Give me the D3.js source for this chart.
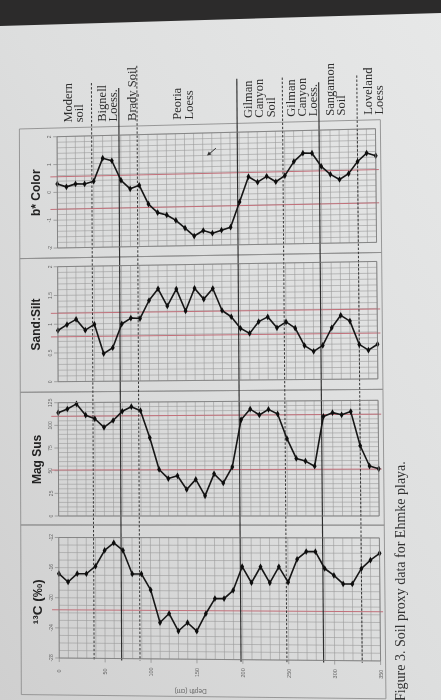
<!DOCTYPE html>
<html><head><meta charset="utf-8">
<script src="https://cdn.jsdelivr.net/npm/d3@7/dist/d3.min.js"></script>
<style>
html,body{margin:0;padding:0;overflow:hidden;background:#dadada;}
svg{display:block}
</style></head>
<body>
<svg id="chart" width="441" height="700"></svg>
<script>
// ---------------- data ----------------
const depths = [0,10,20,30,40,50,60,70,80,90,100,110,120,130,140,150,160,170,180,190,200,210,220,230,240,250,260,270,280,290,300,310,320,330,340,350];
const d13C = [-16.8,-17.9,-16.8,-16.8,-15.8,-13.7,-12.7,-13.7,-16.8,-16.8,-18.9,-23.2,-22.0,-24.3,-23.2,-24.3,-22.0,-20.0,-20.0,-18.9,-15.8,-17.9,-15.8,-17.9,-15.8,-17.8,-14.8,-13.8,-13.8,-16.0,-16.9,-18.0,-18.0,-16.0,-14.9,-14.0];
const magSus = [114,118,123.5,111,107,97.5,105,115,120,115.6,85.8,51,41,44,29,40,22,46,36,53.5,105,116.5,110,116,111,84,62.5,59.6,54,108,112,109.6,113,76,54,51];
const sandSilt = [0.89,0.99,1.08,0.89,0.99,0.48,0.58,0.99,1.09,1.08,1.39,1.59,1.29,1.58,1.20,1.59,1.40,1.58,1.20,1.09,0.89,0.80,1.00,1.08,0.89,0.99,0.88,0.58,0.48,0.58,0.88,1.09,0.99,0.59,0.49,0.59];
const bColor = [0.30,0.19,0.29,0.28,0.37,1.19,1.09,0.38,0.07,0.19,-0.49,-0.80,-0.89,-1.09,-1.37,-1.66,-1.47,-1.57,-1.47,-1.37,-0.48,0.41,0.21,0.41,0.21,0.42,0.91,1.20,1.19,0.72,0.43,0.24,0.44,0.86,1.15,1.05];
const depthTicks = [0,50,100,150,200,250,300,350];
const d13CTicks = [-12,-16,-20,-24,-28];
const magSusTicks = [0,25,50,75,100,125];
const sandSiltTicks = [0,0.5,1,1.5,2];
const bColorTicks = [-2,-1,0,1,2];
const d13CRef = [-21.6];
const magSusRef = [110,50.7];
const sandSiltRef = [1.19,0.78];
const bColorRef = [0.56,-0.61];
const boundaryDepths = [38,68,88,198,248,288,330];
const boundaryTypes = ["gradual","sharp","gradual","sharp","gradual","sharp","gradual"];
const unitNames = [["Modern","soil"],["Bignell","Loess."],["Brady Soil"],["Peoria","Loess"],["Gilman","Canyon","Soil"],["Gilman","Canyon","Loess."],["Sangamon","Soil"],["Loveland","Loess"]];
const panelTitles = ["b* Color","Sand:Silt","Mag Sus","\u00B9\u00B3C (\u2030)"];
const captionText = "Figure 3. Soil proxy data for Ehmke playa.";
const depthTitle = "Depth (cm)";

// ---------------- layout ----------------
const labelLayout = ["after","under","under","center","after","under","after","after"];
// photo perspective warp (flat -> picture)
function W(x,y){ const t=(x-59)/321; return [x+(y-600)*(0.0041+0.0057*t), y+0.021*t*(y-517)]; }

const svg = d3.select("#chart");
const defs = svg.append("defs");
const lg = defs.append("linearGradient").attr("id","pg").attr("x1",1).attr("y1",0).attr("x2",0).attr("y2",1);
lg.append("stop").attr("offset",0).attr("stop-color","#e7e8e8");
lg.append("stop").attr("offset",0.5).attr("stop-color","#dddede");
lg.append("stop").attr("offset",1).attr("stop-color","#cfcfcf");
defs.append("filter").attr("id","soft").append("feGaussianBlur").attr("stdDeviation",0.35);

svg.append("rect").attr("width",441).attr("height",700).attr("fill","url(#pg)");
svg.append("path").attr("d","M0,0H441V13L0,26Z").attr("fill","#2c2b2b");

const g = svg.append("g").attr("filter","url(#soft)");
const gFrame = g.append("g").attr("fill","none").attr("stroke","#8e8e8e").attr("stroke-width",0.9);
const gGrid = g.append("g").attr("stroke","#9a9a9a").attr("stroke-width",0.6);
const gRef = g.append("g").attr("stroke","#c2707a").attr("stroke-width",1);
const gBound = g.append("g").attr("stroke","#2e2e2e");
const gData = g.append("g");
const gText = g.append("g");

function seg(sel,x1,y1,x2,y2){ const a=W(x1,y1), b=W(x2,y2);
  return sel.append("line").attr("x1",a[0].toFixed(2)).attr("y1",a[1].toFixed(2)).attr("x2",b[0].toFixed(2)).attr("y2",b[1].toFixed(2)); }
function vtext(sel,x,y,s,rot){ const p=W(x,y);
  return sel.append("text").attr("transform",`translate(${p[0].toFixed(2)},${p[1].toFixed(2)}) rotate(${rot===undefined?-90:rot})`).text(s); }
function poly(sel,pts){ return sel.append("path").attr("d","M"+pts.map(p=>W(p[0],p[1]).map(v=>v.toFixed(2)).join(",")).join("L")+"Z"); }

const X = d3.scaleLinear().domain([0,350]).range([59,380]);

const panels = [
  {title:panelTitles[0], values:bColor,   ticks:bColorTicks,   ref:bColorRef,   domain:[-2,2],   px:[248,136.7], minor:0.2, frame:[128,258]},
  {title:panelTitles[1], values:sandSilt, ticks:sandSiltTicks, ref:sandSiltRef, domain:[0,2],    px:[381.7,266.7], minor:0.1, frame:[258,392]},
  {title:panelTitles[2], values:magSus,   ticks:magSusTicks,   ref:magSusRef,   domain:[0,125],  px:[516,402.7], minor:5, frame:[392,525]},
  {title:panelTitles[3], values:d13C,     ticks:d13CTicks,     ref:d13CRef,     domain:[-28,-12],px:[658,537.5], minor:1, frame:[525,695]}
];

panels.forEach((p,pi)=>{
  const y = d3.scaleLinear().domain(p.domain).range(p.px);
  poly(gFrame,[[21,p.frame[0]],[385,p.frame[0]],[385,p.frame[1]],[21,p.frame[1]]]);
  const n = Math.round((p.domain[1]-p.domain[0])/p.minor);
  for(let i=0;i<=n;i++){ const v=p.domain[0]+i*p.minor; seg(gGrid,59,y(v),380,y(v)); }
  depths.forEach(d=>seg(gGrid,X(d),p.px[1],X(d),p.px[0]));
  poly(g.append("g").attr("fill","none").attr("stroke","#7a7a7a").attr("stroke-width",0.8),[[59,p.px[1]],[380,p.px[1]],[380,p.px[0]],[59,p.px[0]]]);
  p.ticks.forEach(t=>{ seg(gGrid,55,y(t),59,y(t)).attr("stroke","#7a7a7a");
    vtext(gText,53,y(t),String(t)).attr("text-anchor","middle").attr("font-family","Liberation Sans, Arial, sans-serif").attr("font-size",5).attr("fill","#666"); });
  p.ref.forEach(r=>seg(gRef,52,y(r),383,y(r)));
  const pts = depths.map((d,i)=>W(X(d),y(p.values[i])));
  gData.append("path").attr("d",d3.line()(pts)).attr("fill","none").attr("stroke","#161616").attr("stroke-width",1.6).attr("stroke-linejoin","round");
  const sym = d3.symbol().type(d3.symbolDiamond).size(13);
  pts.forEach(q=>gData.append("path").attr("d",sym()).attr("transform",`translate(${q[0].toFixed(2)},${q[1].toFixed(2)})`).attr("fill","#111"));
  vtext(gText,41.5,(p.px[0]+p.px[1])/2+(pi===3?4:0),p.title).attr("text-anchor","middle")
    .attr("font-family","Liberation Sans, Arial, sans-serif").attr("font-weight","bold").attr("font-size",pi===3?13.5:12).attr("fill","#222");
  if(pi===3){
    depthTicks.forEach(d=>{ seg(gGrid,X(d),658,X(d),662).attr("stroke","#7a7a7a");
      vtext(gText,X(d)+1.8,671,String(d)).attr("text-anchor","middle").attr("font-family","Liberation Sans, Arial, sans-serif").attr("font-size",5.5).attr("fill","#666"); });
    vtext(gText,190,687.5,depthTitle,180).attr("text-anchor","middle").attr("font-family","Liberation Sans, Arial, sans-serif").attr("font-size",6.5).attr("fill","#666");
  }
});

// stratigraphic unit labels
const LH = 11.5, textStart = 123;
const lastLens = [];
unitNames.forEach((lines,k)=>{
  const top = k===0?0:boundaryDepths[k-1];
  const bot = k===unitNames.length-1?350:boundaryDepths[k];
  const n = lines.length;
  let first;
  if(labelLayout[k]==="after") first = X(top)+15;
  else if(labelLayout[k]==="under") first = X(bot)-1.5-(n-1)*LH;
  else first = (X(top)+X(bot))/2-(n-1)*LH/2;
  let len=0;
  lines.forEach((s,j)=>{
    const t = vtext(gText,first+j*LH,textStart,s).attr("font-family","Liberation Serif, 'Times New Roman', serif").attr("font-size",12.5).attr("fill","#2f2f2f");
    if(j===n-1) len = t.node().getComputedTextLength();
  });
  lastLens.push(len);
});

// unit boundaries
boundaryDepths.forEach((d,i)=>{
  const top = labelLayout[i]==="under" ? textStart-lastLens[i]-1 : 84;
  const l = seg(gBound,X(d),top,X(d),660);
  if(boundaryTypes[i]==="sharp") l.attr("stroke-width",1.15);
  else l.attr("stroke-width",0.95).attr("stroke-dasharray","2.4,1.7");
});

// pen mark
seg(gData,219,152,211,158.5).attr("stroke","#333").attr("stroke-width",1);
{ const a=W(210,159), b=W(214.5,158.2), c=W(211.8,155); gData.append("path").attr("d",`M${a}L${b}L${c}Z`).attr("fill","#333"); }

// caption
vtext(gText,404,697,captionText).attr("font-family","Liberation Serif, 'Times New Roman', serif").attr("font-size",14).attr("fill","#333");
</script>
</body></html>
